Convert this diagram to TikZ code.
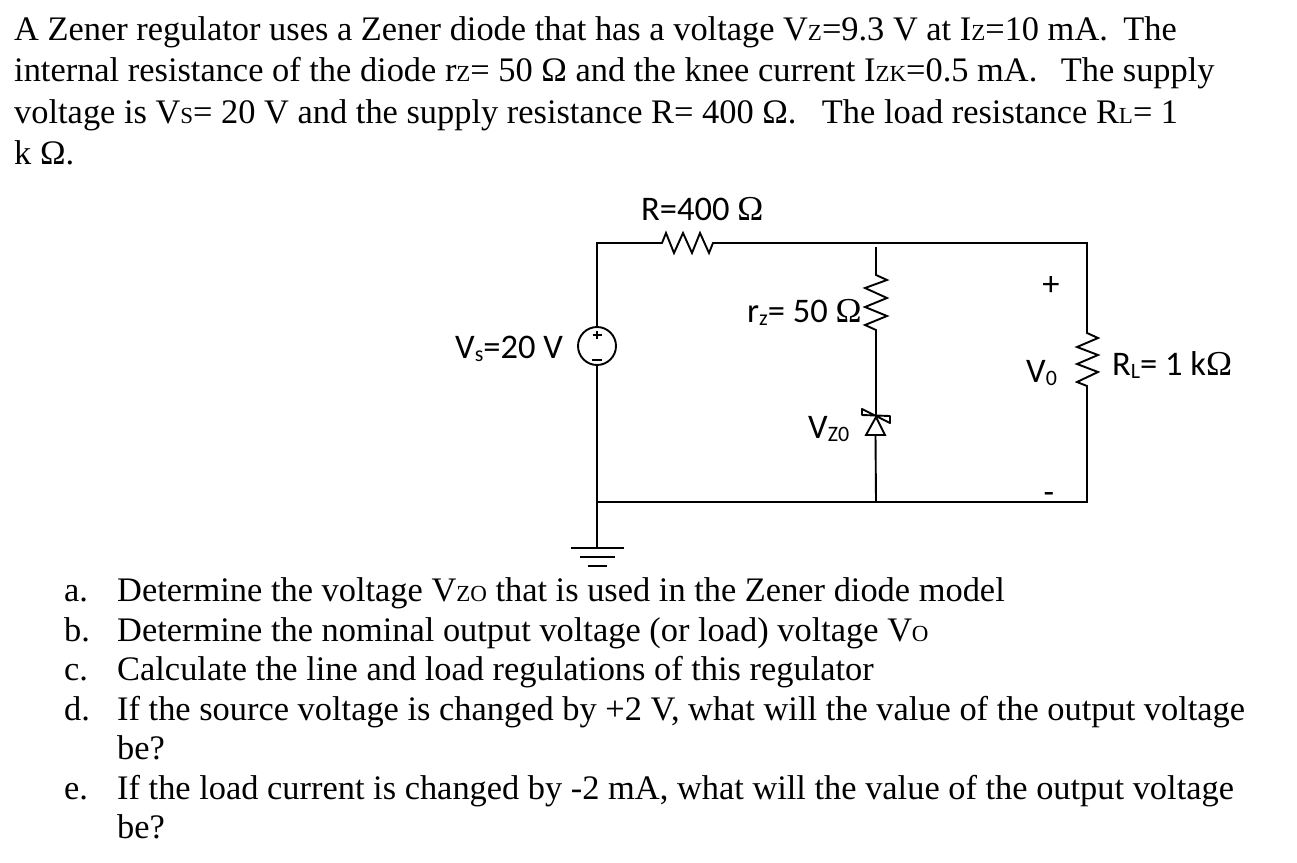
\documentclass[tikz,border=0pt]{standalone}
\usepackage{fontspec}
\setmainfont{Liberation Serif}
\newfontfamily\calfont{Carlito}
\newcommand{\smc}[1]{{\fontsize{23}{23}\selectfont #1}}
\newcommand{\cb}[1]{\raisebox{-3.5pt}{\fontsize{22}{22}\selectfont #1}}
\newcommand{\omg}{{\rmfamily\fontsize{35}{35}\selectfont Ω}}
\tikzset{
  para/.style={anchor=base west,inner sep=0pt,font=\fontsize{34.4}{34.4}\selectfont},
  lab/.style={anchor=base west,inner sep=0pt,font=\calfont\fontsize{34.5}{34.5}\selectfont},
  wire/.style={line width=1.9pt,line join=miter,line cap=butt},
  gnd/.style={line width=1.9pt}
}
\begin{document}
\begin{tikzpicture}[x=1pt,y=-1pt]
\useasboundingbox (0,0) rectangle (1297,862);
% paragraph
\node[para] (t1) at (14,40) {A Zener regulator uses a Zener diode that has a voltage V\smc{Z}=9.3 V at I\smc{Z}=10 mA.\hspace{0.2em} The};
\node[para] (t2) at (14,81) {internal resistance of the diode r\smc{Z}= 50 Ω and the knee current I\smc{ZK}=0.5 mA.\hspace{0.43em} The supply};
\node[para] (t3) at (14,123) {voltage is V\smc{S}= 20 V and the supply resistance R= 400 Ω.\hspace{0.49em} The load resistance R\smc{L}= 1};
\node[para] (t4) at (14,164) {k Ω.};
% list
\node[para] (la) at (64,601) {a.};
\node[para] (a) at (117,601) {Determine the voltage V\smc{ZO} that is used in the Zener diode model};
\node[para] (lb) at (64,641) {b.};
\node[para] (b) at (117,641) {Determine the nominal output voltage (or load) voltage V\smc{O}};
\node[para] (lc) at (64,680) {c.};
\node[para] (c) at (117,680) {Calculate the line and load regulations of this regulator};
\node[para] (ld) at (64,720) {d.};
\node[para] (d) at (117,720) {If the source voltage is changed by +2 V, what will the value of the output voltage};
\node[para] (d2) at (117,759) {be?};
\node[para] (le) at (64,799) {e.};
\node[para] (e) at (117,799) {If the load current is changed by -2 mA, what will the value of the output voltage};
\node[para] (e2) at (117,838) {be?};
% labels
\node[lab] (lR) at (641,220) {R=400 \omg};
\node[lab] (lrz) at (747,322) {r\cb{z}= 50 \omg};
\node[lab] (lVs) at (455,358) {V\cb{s}=20 V};
\node[lab] (lVz) at (808,438) {V\cb{Z0}};
\node[lab] (lVo) at (1026,382) {V\cb{0}};
\node[lab] (lRL) at (1112,375) {R\cb{L}= 1 k\omg};
\node[lab,anchor=center] (plus) at (1051,286) {+};
\node[lab,anchor=center] (minus) at (1049,498) {-};
% coordinates
\coordinate (tl) at (597,243);
\coordinate (tr) at (1087,243);
\coordinate (bl) at (597,502);
\coordinate (br) at (1087,502);
\coordinate (rin) at (662,243);
\coordinate (rout) at (713,243);
\coordinate (ztop) at (876,247);
\coordinate (zbot) at (876,502);
\coordinate (g1) at (597,548);
% source
\node[circle,draw,line width=1.9pt,minimum size=38pt,inner sep=0pt] (vs) at (597,346) {};
\draw[line width=1.5pt] (592.5,335) -- (601.5,335) (597,331) -- (597,339);
\draw[line width=1.5pt] (592,360) -- (602,360);
% wires
\draw[wire] (vs.north) -- (tl) -- (rin) -- ++(4,-10) -- ++(8,20) -- ++(9,-20) -- ++(9,20) -- ++(8,-20) -- ++(9,20) -- (rout) -- (tr) -- (1087,333)
  -- (1098,338) -- (1077,347) -- (1098,355) -- (1077,364) -- (1098,372) -- (1077,382) -- (1087,386) -- (br) -- (bl);
\draw[wire] (vs.south) -- (g1);
\draw[wire] (ztop) -- (876,275) -- (887,280) -- (865,288) -- (887,298) -- (865,307) -- (887,316) -- (865,325) -- (876,330) -- (876,417);
\draw[wire] (876,417) -- (866,435) -- (885,435) -- cycle;
\draw[wire] (875.5,435) -- (zbot);
\draw[wire,line join=round] (862,409) -- (890,423) -- (890,416) -- (862,415) -- cycle;
% ground
\draw[gnd] (571,548) -- (624,548);
\draw[gnd] (580,557) -- (615,557);
\draw[gnd] (588,566) -- (607,566);
\end{tikzpicture}
\end{document}
